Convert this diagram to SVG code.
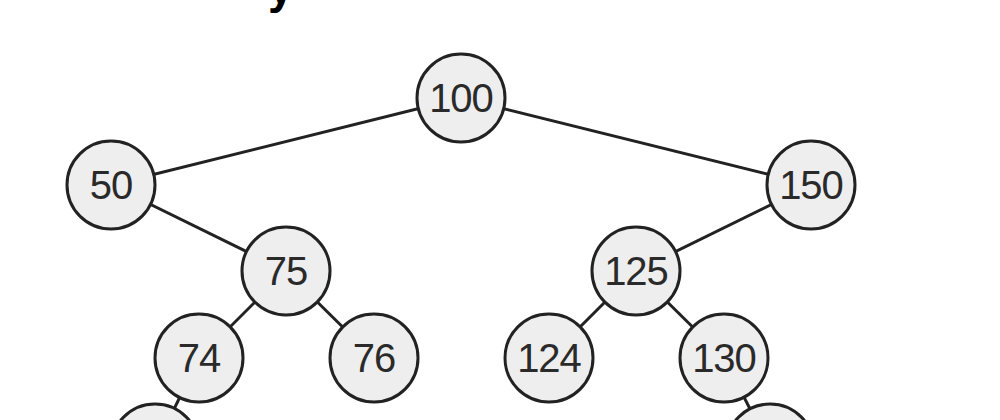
<svg xmlns="http://www.w3.org/2000/svg" width="1000" height="420" viewBox="0 0 1000 420">
<style>
.n ellipse{fill:#eeeeee;stroke:#222;stroke-width:3}
.n text{font-family:"Liberation Sans",Arial,sans-serif;font-size:40px;fill:#2a2a2a;text-anchor:middle;letter-spacing:-1px}
#edges line{stroke:#222;stroke-width:3}
</style>
<rect width="1000" height="420" fill="#fff"/>
<text x="268" y="3" font-family="Liberation Sans,Arial,sans-serif" font-weight="bold" font-size="46" fill="#000">y</text>
<g id="edges">
<line x1="461" y1="98" x2="111" y2="185"/>
<line x1="461" y1="98" x2="811" y2="185"/>
<line x1="111" y1="185" x2="286" y2="271"/>
<line x1="811" y1="185" x2="636" y2="271"/>
<line x1="286" y1="271" x2="199" y2="358"/>
<line x1="286" y1="271" x2="374" y2="358"/>
<line x1="636" y1="271" x2="549" y2="358"/>
<line x1="636" y1="271" x2="724" y2="358"/>
<line x1="199" y1="358" x2="155" y2="448"/>
<line x1="724" y1="358" x2="770" y2="448"/>
</g>
<g id="n100" class="n"><ellipse cx="461" cy="98" rx="44" ry="44"/><text x="461" y="112">100</text></g>
<g id="n50" class="n"><ellipse cx="111" cy="185" rx="44" ry="44"/><text x="111" y="199">50</text></g>
<g id="n150" class="n"><ellipse cx="811" cy="185" rx="44" ry="44"/><text x="811" y="199">150</text></g>
<g id="n75" class="n"><ellipse cx="286" cy="271" rx="44" ry="44"/><text x="286" y="285">75</text></g>
<g id="n125" class="n"><ellipse cx="636" cy="271" rx="44" ry="44"/><text x="636" y="285">125</text></g>
<g id="n74" class="n"><ellipse cx="199" cy="358" rx="44" ry="44"/><text x="199" y="372">74</text></g>
<g id="n76" class="n"><ellipse cx="374" cy="358" rx="44" ry="44"/><text x="374" y="372">76</text></g>
<g id="n124" class="n"><ellipse cx="549" cy="358" rx="44" ry="44"/><text x="549" y="372">124</text></g>
<g id="n130" class="n"><ellipse cx="724" cy="358" rx="44" ry="44"/><text x="724" y="372">130</text></g>
<g id="nbl" class="n"><ellipse cx="155" cy="448" rx="44" ry="44"/></g>
<g id="nbr" class="n"><ellipse cx="770" cy="448" rx="44" ry="44"/></g>
</svg>
